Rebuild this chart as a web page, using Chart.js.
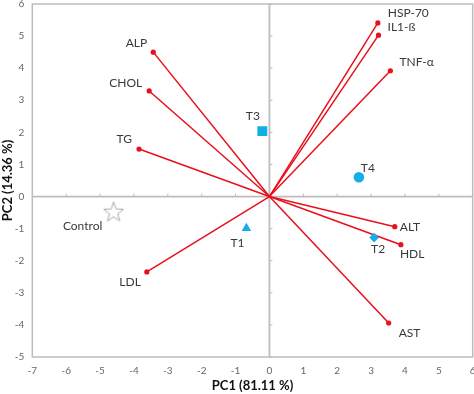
<!DOCTYPE html>
<html>
<head>
<meta charset="utf-8">
<script src="https://cdn.jsdelivr.net/npm/chart.js@4"></script>
<style>
html,body{margin:0;padding:0;background:#fff;}
#c{display:block;}
</style>
</head>
<body>
<canvas id="c" width="474" height="394"></canvas>
<script>
// ---- data ----
const variables = ['HSP-70', 'IL1-ß', 'TNF-α', 'ALP', 'CHOL', 'TG', 'LDL', 'ALT', 'HDL', 'AST'];
const pc1Loadings = [3.20, 3.22, 3.57, -3.43, -3.55, -3.85, -3.62, 3.70, 3.88, 3.52];
const pc2Loadings = [5.41, 5.03, 3.92, 4.50, 3.29, 1.48, -2.35, -0.94, -1.50, -3.94];
const groups = ['Control', 'T1', 'T2', 'T3', 'T4'];
const pc1Scores = [-4.60, -0.68, 3.09, -0.21, 2.64];
const pc2Scores = [-0.47, -0.99, -1.28, 2.04, 0.60];
const xTickValues = [-7, -6, -5, -4, -3, -2, -1, 0, 1, 2, 3, 4, 5, 6];
const yTickValues = [-5, -4, -3, -2, -1, 0, 1, 2, 3, 4, 5, 6];
const xTitle = 'PC1 (81.11 %)';
const yTitle = 'PC2 (14.36 %)';

// ---- styling (kept apart from data) ----
const FONT = 'Lato, "Open Sans", sans-serif';
const RED = '#e8101a';
const BLUE = '#12aee8';
const TEXT = '#3a3a3a';
const AXIS = '#bdbdbd';
// label placement: [dx, dy, align] in pixels relative to the point
const varLabelPos = {
  'HSP-70': [10, -10, 'left'], 'IL1-ß': [9, -8, 'left'], 'TNF-α': [9, -9, 'left'],
  'ALP': [-6, -9, 'right'], 'CHOL': [-7, -8, 'right'], 'TG': [-7, -10, 'right'],
  'LDL': [-6, 10, 'right'], 'ALT': [5, 0, 'left'], 'HDL': [-1, 9, 'left'], 'AST': [10, 10, 'left']
};
const groupLabelPos = {
  'Control': [-31, 14, 'center'], 'T1': [-9, 15, 'center'], 'T2': [4, 12, 'center'],
  'T3': [-9.5, -15, 'center'], 'T4': [9, -9, 'center']
};

function makeStar() {
  const cv = document.createElement('canvas');
  cv.width = 24; cv.height = 24;
  const g = cv.getContext('2d');
  const cx = 12, cy = 12.8, R = 10.5, r = 4.3;
  g.beginPath();
  for (let i = 0; i < 10; i++) {
    const rad = (i % 2 === 0) ? R : r;
    const a = -Math.PI / 2 + i * Math.PI / 5;
    const px = cx + rad * Math.cos(a), py = cy + rad * Math.sin(a);
    if (i === 0) g.moveTo(px, py); else g.lineTo(px, py);
  }
  g.closePath();
  g.fillStyle = '#fff';
  g.fill();
  g.strokeStyle = '#a8a8a8';
  g.lineWidth = 1;
  g.stroke();
  return cv;
}
const groupStyle = {
  'Control': {pointStyle: makeStar(), radius: 11},
  'T1': {pointStyle: 'triangle', radius: 5.5},
  'T2': {pointStyle: 'rectRot', radius: 4.8},
  'T3': {pointStyle: 'rect', radius: 7},
  'T4': {pointStyle: 'circle', radius: 5.3}
};

const datasets = [];
variables.forEach((name, i) => {
  datasets.push({
    label: name, kind: 'var',
    data: [{x: 0, y: 0}, {x: pc1Loadings[i], y: pc2Loadings[i]}],
    showLine: true, borderColor: RED, borderWidth: 1.5, backgroundColor: RED,
    pointBackgroundColor: RED, pointBorderColor: RED, pointRadius: [0, 2.6], pointBorderWidth: 0,
    order: 2
  });
});
groups.forEach((name, i) => {
  const s = groupStyle[name];
  datasets.push({
    label: name, kind: 'group',
    data: [{x: pc1Scores[i], y: pc2Scores[i]}],
    showLine: false, pointStyle: s.pointStyle, pointRadius: s.radius,
    pointBackgroundColor: BLUE, pointBorderColor: BLUE, pointBorderWidth: 0,
    order: 0
  });
});

const framePlugin = {
  id: 'frame',
  beforeDatasetsDraw(chart) {
    const {ctx, chartArea: a, scales: {x, y}} = chart;
    ctx.save();
    ctx.strokeStyle = AXIS;
    ctx.lineWidth = 1.5;
    ctx.strokeRect(a.left, a.top, a.right - a.left, a.bottom - a.top);
    const x0 = x.getPixelForValue(0), y0 = y.getPixelForValue(0);
    ctx.lineWidth = 1.8;
    ctx.beginPath();
    ctx.moveTo(x0, a.top); ctx.lineTo(x0, a.bottom);
    ctx.moveTo(a.left, y0); ctx.lineTo(a.right, y0);
    ctx.stroke();
    ctx.lineWidth = 1;
    ctx.beginPath();
    xTickValues.forEach(v => { const px = x.getPixelForValue(v); ctx.moveTo(px, y0); ctx.lineTo(px, y0 - 3); });
    yTickValues.forEach(v => { const py = y.getPixelForValue(v); ctx.moveTo(x0, py); ctx.lineTo(x0 + 3, py); });
    ctx.stroke();
    ctx.restore();
  },
  afterDatasetsDraw(chart) {
    const {ctx} = chart;
    ctx.save();
    ctx.font = '12px ' + FONT;
    ctx.fillStyle = TEXT;
    ctx.textBaseline = 'middle';
    chart.data.datasets.forEach((ds, di) => {
      const meta = chart.getDatasetMeta(di);
      const el = meta.data[meta.data.length - 1];
      const pos = ds.kind === 'var' ? varLabelPos[ds.label] : groupLabelPos[ds.label];
      ctx.textAlign = pos[2];
      ctx.fillText(ds.label, el.x + pos[0], el.y + pos[1]);
    });
    ctx.restore();
  }
};

new Chart(document.getElementById('c'), {
  type: 'scatter',
  data: {datasets},
  options: {
    responsive: false,
    animation: false,
    layout: {autoPadding: false, padding: {top: 4, right: 1.3, left: 0, bottom: 0}},
    plugins: {legend: {display: false}, tooltip: {enabled: false}},
    scales: {
      x: {
        type: 'linear', min: -7, max: 6,
        afterBuildTicks: s => { s.ticks = xTickValues.map(v => ({value: v})); },
        afterFit: s => { s.height = 37; s.paddingLeft = 0; s.paddingRight = 0; },
        grid: {display: false, drawTicks: false},
        border: {display: false},
        ticks: {color: '#666', font: {family: FONT, size: 10}, padding: 8, maxRotation: 0},
        title: {display: true, text: xTitle, color: '#111', font: {family: FONT, size: 13, weight: 'bold'}, padding: {top: 0, bottom: 0}}
      },
      y: {
        type: 'linear', min: -5, max: 6,
        afterBuildTicks: s => { s.ticks = yTickValues.map(v => ({value: v})); },
        afterFit: s => { s.width = 32.3; s.paddingTop = 0; s.paddingBottom = 0; },
        grid: {display: false, drawTicks: false},
        border: {display: false},
        ticks: {color: '#666', font: {family: FONT, size: 10}, padding: 8},
        title: {display: true, text: yTitle, color: '#111', font: {family: FONT, size: 13, weight: 'bold'}, padding: {top: 0, bottom: 0}}
      }
    }
  },
  plugins: [framePlugin]
});
</script>
</body>
</html>
